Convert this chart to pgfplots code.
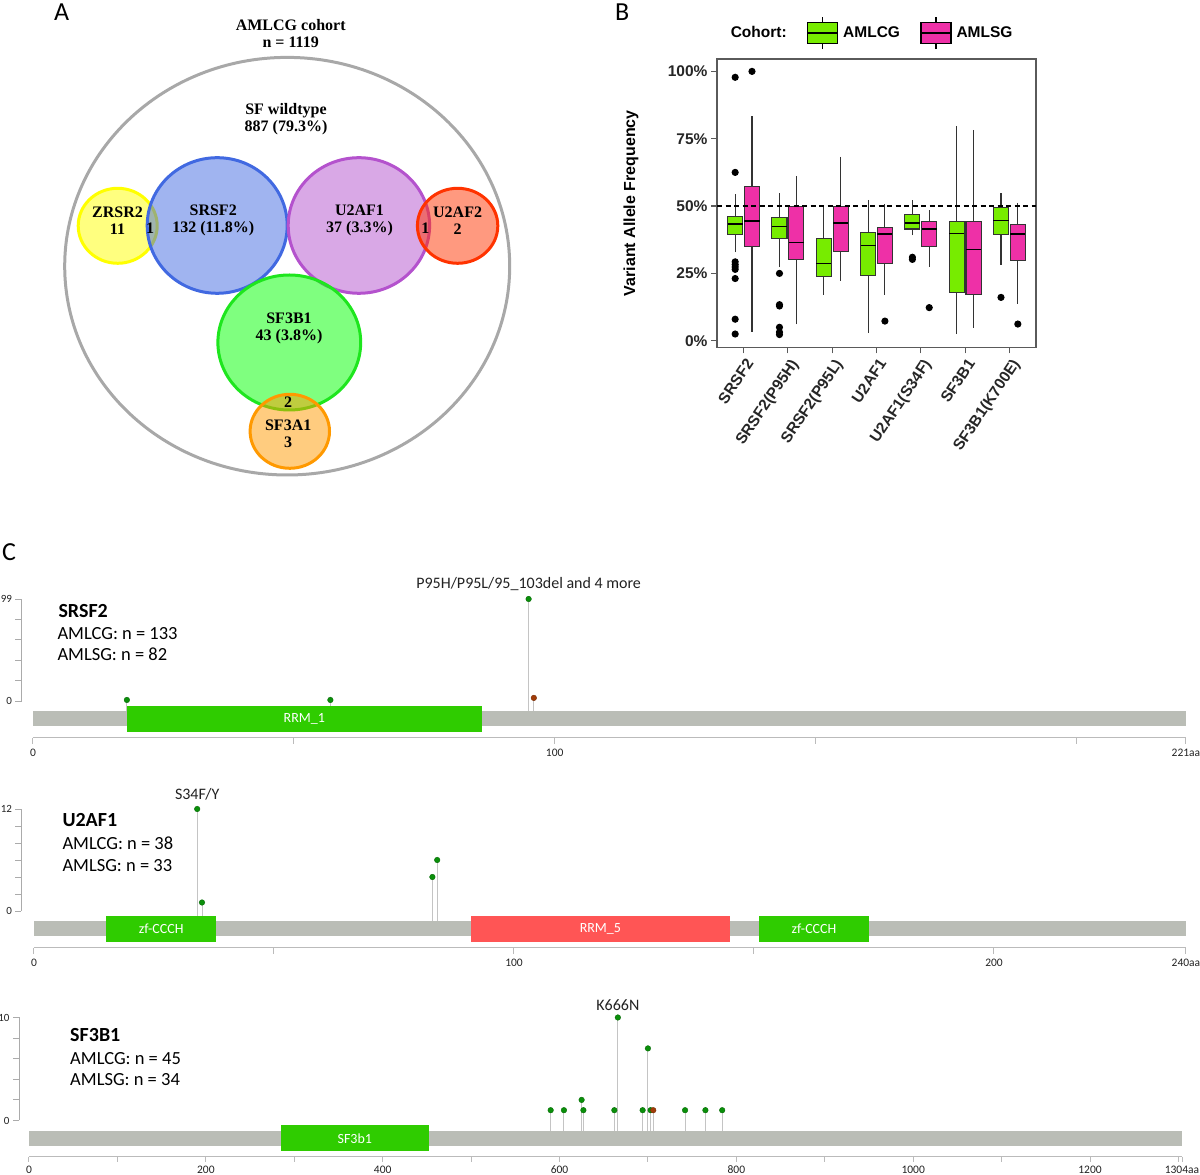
\documentclass[border=0pt]{standalone}
\usepackage{pgfplots}
\pgfplotsset{compat=1.18}
\usepackage{pgfplotstable}
\usepgfplotslibrary{statistics}
\usepackage{fontspec}
\setmainfont{Carlito}
\newfontfamily\timesf{Liberation Serif}
\newfontfamily\arialf{Liberation Sans}
\newcommand\fs[2]{\fontsize{#1}{#2}\selectfont}

\definecolor{outergray}{HTML}{A8A8A8}
\definecolor{vyellow}{HTML}{FFFF00}
\definecolor{vblue}{HTML}{4169E1}
\definecolor{vpurple}{HTML}{B452CD}
\definecolor{vred}{HTML}{FF3300}
\definecolor{vgreen}{HTML}{00FF00}
\definecolor{vgreenl}{HTML}{1EE61E}
\definecolor{vorange}{HTML}{FF9900}
\definecolor{amlcg}{HTML}{77EC00}
\definecolor{amlsg}{HTML}{EE30A7}
\definecolor{boxline}{HTML}{333333}
\definecolor{framegray}{HTML}{5A5A5A}
\definecolor{bargray}{HTML}{BABDB6}
\definecolor{domgreen}{HTML}{2FCC00}
\definecolor{domred}{HTML}{FF5555}
\definecolor{stemgray}{HTML}{C4C4C4}
\definecolor{rulergray}{HTML}{BBBBBB}
\definecolor{axgray}{HTML}{ABABAB}
\definecolor{dotgreen}{HTML}{0A8F0A}
\definecolor{dotbrown}{HTML}{A13C08}
\definecolor{txt}{HTML}{222222}

% lollipop data: amino acid position, number of mutations
\pgfplotstableread{
aa n
18 1
57 1
95 99
}\srsfG
\pgfplotstableread{
aa n
96 3
}\srsfB
\pgfplotstableread{
aa n
34 12
35 1
83 4
84 6
}\uafG
\pgfplotstableread{
aa n
590 1
605 1
625 2
627 1
662 1
666 10
694 1
700 7
703 1
742 1
765 1
784 1
}\sfbG
\pgfplotstableread{
aa n
706 1
}\sfbB

\pgfplotsset{
  bxG/.style={forget plot, draw=boxline, line width=1.1pt, fill=amlcg,
    mark=*, mark size=3pt, mark options={draw=black, fill=black}},
  bxP/.style={forget plot, draw=boxline, line width=1.1pt, fill=amlsg,
    mark=*, mark size=3pt, mark options={draw=black, fill=black}},
  lolli/.style={anchor=south west, scale only axis, clip=false,
    hide x axis, axis y line=left,
    axis line style={-, draw=axgray, line width=0.9pt},
    ytick style={draw=axgray, line width=0.9pt},
    tick align=outside, major tick length=6pt,
    yticklabel style={font=\fs{11}{11}, text=txt}},
  stem/.style={forget plot, draw=none, mark=none,
    error bars/.cd, y dir=minus, y explicit, error mark=none,
    error bar style={draw=stemgray, line width=0.9pt, solid}},
  dotG/.style={forget plot, only marks, mark=*, mark size=2.8pt,
    mark options={fill=dotgreen, draw=dotgreen!75!black, line width=0.4pt}},
  dotB/.style={forget plot, only marks, mark=*, mark size=2.8pt,
    mark options={fill=dotbrown, draw=dotbrown!75!black, line width=0.4pt}},
}
\tikzset{
  venn/.style={line width=3pt, fill opacity=0.5},
  vtxt/.style={font=\timesf\bfseries\fs{16}{17}, align=center, text=black},
  domlbl/.style={font=\fs{14}{14}, text=white},
  rlbl/.style={font=\fs{11.5}{11.5}, text=txt},
  annot/.style={font=\fs{16}{16}, text=txt},
  gname/.style={anchor=west, font=\bfseries\fs{20}{20}, text=black},
  gcount/.style={anchor=west, font=\fs{18.5}{18.5}, text=black},
}

\begin{document}
\begin{tikzpicture}[x=1pt, y=1pt]
\path[use as bounding box] (0,0) rectangle (1200,1175);

% panel letters
\node[font=\fs{26}{26}] at (61.7,1163.3) {A};
\node[font=\fs{26}{26}] at (622.3,1163.3) {B};
\node[font=\fs{26}{26}] at (9,623) {C};

%% A: Venn diagram
\begin{axis}[at={(0pt,695pt)}, anchor=south west, scale only axis,
    width=560pt, height=480pt, xmin=0, xmax=560, ymin=0, ymax=480,
    y dir=reverse, hide axis, clip=false]
  \draw[outergray, line width=3pt] (axis cs:287.2,266.2) ellipse [x radius=222.5, y radius=208.8];
  \draw[venn, draw=vyellow, fill=vyellow] (axis cs:117.7,225.8) ellipse [x radius=39.5, y radius=37.5];
  \draw[venn, draw=vblue, fill=vblue] (axis cs:217.2,225.5) ellipse [x radius=70, y radius=67.8];
  \draw[venn, draw=vpurple, fill=vpurple] (axis cs:358.9,225.5) ellipse [x radius=70.7, y radius=67.8];
  \draw[venn, draw=vred, fill=vred] (axis cs:457.6,225.8) ellipse [x radius=40.2, y radius=37.5];
  \draw[venn, draw=vgreenl, fill=vgreen] (axis cs:289.3,342.5) ellipse [x radius=71.4, y radius=67.5];
  \draw[venn, draw=vorange, fill=vorange] (axis cs:289.8,431.3) ellipse [x radius=39.7, y radius=37];
  \node[vtxt] at (axis cs:290.7,33.6) {AMLCG cohort\\n = 1119};
  \node[vtxt] at (axis cs:286,118.8) {SF wildtype\\887 (79.3\%)};
  \node[vtxt] at (axis cs:117.5,220.3) {ZRSR2\\11};
  \node[vtxt] at (axis cs:150,228.3) {1};
  \node[vtxt] at (axis cs:213.2,220.3) {SRSF2\\132 (11.8\%)};
  \node[vtxt] at (axis cs:359.5,220.3) {U2AF1\\37 (3.3\%)};
  \node[vtxt] at (axis cs:425.3,228.3) {1};
  \node[vtxt] at (axis cs:457.6,220.3) {U2AF2\\2};
  \node[vtxt] at (axis cs:289,328.3) {SF3B1\\43 (3.8\%)};
  \node[vtxt] at (axis cs:288.2,402.7) {2};
  \node[vtxt] at (axis cs:288.2,433.3) {SF3A1\\3};
\end{axis}

%% B: VAF boxplots
\begin{axis}[at={(717pt,827.5pt)}, anchor=south west, scale only axis,
    width=319pt, height=288.5pt,
    xmin=0.4, xmax=7.6, ymin=-2.5, ymax=104.6,
    axis line style={draw=framegray, line width=1.2pt},
    tick style={draw=framegray, line width=1.2pt},
    tick align=outside, major tick length=6pt,
    xtick pos=bottom, ytick pos=left,
    xtick={1,...,7},
    xticklabels={SRSF2,SRSF2(P95H),SRSF2(P95L),U2AF1,U2AF1(S34F),SF3B1,SF3B1(K700E)},
    ytick={0,25,50,75,100},
    yticklabels={0\%,25\%,50\%,75\%,100\%},
    ticklabel style={font=\arialf\bfseries\fs{15.5}{16}, text=black!85},
    xticklabel style={rotate=56, anchor=north east, xshift=1pt},
    ylabel={Variant Allele Frequency},
    ylabel style={font=\arialf\bfseries\fs{16}{16}, at={(axis description cs:-0.27,0.5)}, anchor=center},
    boxplot/draw direction=y,
    boxplot/box extend=0.34,
    boxplot/whisker extend=0,
    boxplot/every median/.style={draw=black, line width=1.5pt},
    legend columns=3,
    legend style={draw=none, fill=none, at={(0.48,1.09)}, anchor=center,
      font=\arialf\bfseries\fs{15.5}{16},
      /tikz/every odd column/.append style={column sep=3pt},
      /tikz/every even column/.append style={column sep=18pt}},
  ]
  \addlegendimage{empty legend}
  \addlegendentry{Cohort:}
  \addlegendimage{legend image code/.code={
    \draw[black, line width=1.5pt] (15pt,-16pt) -- (15pt,16pt);
    \draw[black, line width=1.5pt, fill=amlcg] (0pt,-10.5pt) rectangle (30pt,10.5pt);
    \draw[black, line width=1.5pt] (0pt,0pt) -- (30pt,0pt);}}
  \addlegendentry{AMLCG}
  \addlegendimage{legend image code/.code={
    \draw[black, line width=1.5pt] (15pt,-16pt) -- (15pt,16pt);
    \draw[black, line width=1.5pt, fill=amlsg] (0pt,-10.5pt) rectangle (30pt,10.5pt);
    \draw[black, line width=1.5pt] (0pt,0pt) -- (30pt,0pt);}}
  \addlegendentry{AMLSG}

  % SRSF2
  \addplot[bxG, boxplot prepared={draw position=0.81, lower whisker=32.8, lower quartile=39.6,
    median=43.3, upper quartile=46.2, upper whisker=54.4}]
    table[row sep=\\, y index=0] {y\\ 97.8\\ 62.5\\ 29.3\\ 28.3\\ 27.4\\ 26.5\\ 23.1\\ 8.0\\ 2.5\\};
  \addplot[bxP, boxplot prepared={draw position=1.19, lower whisker=3.3, lower quartile=35.1,
    median=44.4, upper quartile=57.1, upper whisker=83.3}]
    table[row sep=\\, y index=0] {y\\ 100\\};
  % SRSF2(P95H)
  \addplot[bxG, boxplot prepared={draw position=1.81, lower whisker=27.2, lower quartile=38.0,
    median=42.4, upper quartile=45.9, upper whisker=54.7}]
    table[row sep=\\, y index=0] {y\\ 25.0\\ 13.4\\ 12.9\\ 5.0\\ 3.2\\ 2.3\\};
  \addplot[bxP, boxplot prepared={draw position=2.19, lower whisker=6.1, lower quartile=30.0,
    median=36.5, upper quartile=50.0, upper whisker=61.2}] coordinates {};
  % SRSF2(P95L)
  \addplot[bxG, boxplot prepared={draw position=2.81, lower whisker=17.0, lower quartile=23.8,
    median=28.7, upper quartile=38.0, upper whisker=50.0}] coordinates {};
  \addplot[bxP, boxplot prepared={draw position=3.19, lower whisker=22.3, lower quartile=33.3,
    median=43.8, upper quartile=50.0, upper whisker=68.4}] coordinates {};
  % U2AF1
  \addplot[bxG, boxplot prepared={draw position=3.81, lower whisker=2.8, lower quartile=24.3,
    median=35.4, upper quartile=40.3, upper whisker=52.3}] coordinates {};
  \addplot[bxP, boxplot prepared={draw position=4.19, lower whisker=17.0, lower quartile=28.6,
    median=39.6, upper quartile=42.1, upper whisker=50.6}]
    table[row sep=\\, y index=0] {y\\ 7.3\\};
  % U2AF1(S34F)
  \addplot[bxG, boxplot prepared={draw position=4.81, lower whisker=39.1, lower quartile=41.5,
    median=43.8, upper quartile=47.0, upper whisker=52.2}]
    table[row sep=\\, y index=0] {y\\ 31.0\\ 30.2\\};
  \addplot[bxP, boxplot prepared={draw position=5.19, lower whisker=27.4, lower quartile=34.9,
    median=41.5, upper quartile=44.4, upper whisker=48.5}]
    table[row sep=\\, y index=0] {y\\ 12.3\\};
  % SF3B1
  \addplot[bxG, boxplot prepared={draw position=5.81, lower whisker=2.5, lower quartile=18.0,
    median=39.8, upper quartile=44.2, upper whisker=79.8}] coordinates {};
  \addplot[bxP, boxplot prepared={draw position=6.19, lower whisker=4.9, lower quartile=17.3,
    median=33.9, upper quartile=44.2, upper whisker=78.3}] coordinates {};
  % SF3B1(K700E)
  \addplot[bxG, boxplot prepared={draw position=6.81, lower whisker=28.3, lower quartile=39.5,
    median=44.7, upper quartile=49.6, upper whisker=54.7}]
    table[row sep=\\, y index=0] {y\\ 16.1\\};
  \addplot[bxP, boxplot prepared={draw position=7.19, lower whisker=13.7, lower quartile=29.9,
    median=39.7, upper quartile=43.2, upper whisker=51.3}]
    table[row sep=\\, y index=0] {y\\ 6.2\\};

  \addplot[forget plot, black, line width=1.2pt, dash pattern=on 5pt off 3.5pt]
    coordinates {(0.4,50) (7.6,50)};
\end{axis}

%% C: lollipop plots
% SRSF2
\begin{axis}[lolli, at={(21.5pt,474pt)}, width=1164.5pt, height=102pt,
    xmin=-2.204, xmax=221, ymin=0, ymax=99,
    ytick={0,19.8,39.6,59.4,79.2,99}, yticklabels={0,,,,,99}]
  \fill[bargray] ([yshift=-10.5pt]axis cs:0,0) rectangle ([yshift=-25.5pt]axis cs:221,0);
  \addplot[stem] table[x=aa, y=n, y error expr={\thisrow{n}+10.19}] {\srsfG};
  \addplot[stem] table[x=aa, y=n, y error expr={\thisrow{n}+10.19}] {\srsfB};
  \fill[domgreen] ([yshift=-5pt]axis cs:18,0) rectangle ([yshift=-31pt]axis cs:86,0);
  \node[domlbl] at ([yshift=-18pt]axis cs:52,0) {RRM\_1};
  \addplot[dotG] table[x=aa, y=n] {\srsfG};
  \addplot[dotB] table[x=aa, y=n] {\srsfB};
  \draw[rulergray, line width=1pt] ([yshift=-37pt]axis cs:0,0) -- ([yshift=-37pt]axis cs:221,0);
  \pgfplotsinvokeforeach{0,50,100,150,200,221}{
    \draw[rulergray, line width=1pt] ([yshift=-37pt]axis cs:#1,0) -- ([yshift=-43pt]axis cs:#1,0);}
  \node[rlbl] at ([yshift=-51.5pt]axis cs:0,0) {0};
  \node[rlbl] at ([yshift=-51.5pt]axis cs:100,0) {100};
  \node[rlbl] at ([yshift=-51.5pt]axis cs:221,0) {221aa};
  \node[annot] at ([yshift=15pt]axis cs:95,99) {P95H/P95L/95\_103del and 4 more};
\end{axis}
\node[gname] at (55,564.2) {SRSF2};
\node[gcount] at (54,541.7) {AMLCG: n = 133};
\node[gcount] at (54,521) {AMLSG: n = 82};

% U2AF1
\begin{axis}[lolli, at={(21.5pt,264pt)}, width=1164.5pt, height=102pt,
    xmin=-2.604, xmax=240, ymin=0, ymax=12,
    ytick={0,2,4,6,8,10,12}, yticklabels={0,,,,,,12}]
  \fill[bargray] ([yshift=-10.5pt]axis cs:0,0) rectangle ([yshift=-25.5pt]axis cs:240,0);
  \addplot[stem] table[x=aa, y=n, y error expr={\thisrow{n}+1.235}] {\uafG};
  \fill[domgreen] ([yshift=-5pt]axis cs:15,0) rectangle ([yshift=-31pt]axis cs:38,0);
  \fill[domred] ([yshift=-5pt]axis cs:91,0) rectangle ([yshift=-31pt]axis cs:145,0);
  \fill[domgreen] ([yshift=-5pt]axis cs:151,0) rectangle ([yshift=-31pt]axis cs:174,0);
  \node[domlbl] at ([yshift=-18pt]axis cs:26.5,0) {zf-CCCH};
  \node[domlbl] at ([yshift=-18pt]axis cs:118,0) {RRM\_5};
  \node[domlbl] at ([yshift=-18pt]axis cs:162.5,0) {zf-CCCH};
  \addplot[dotG] table[x=aa, y=n] {\uafG};
  \draw[rulergray, line width=1pt] ([yshift=-37pt]axis cs:0,0) -- ([yshift=-37pt]axis cs:240,0);
  \pgfplotsinvokeforeach{0,50,100,150,200,240}{
    \draw[rulergray, line width=1pt] ([yshift=-37pt]axis cs:#1,0) -- ([yshift=-43pt]axis cs:#1,0);}
  \node[rlbl] at ([yshift=-52pt]axis cs:0,0) {0};
  \node[rlbl] at ([yshift=-52pt]axis cs:100,0) {100};
  \node[rlbl] at ([yshift=-52pt]axis cs:200,0) {200};
  \node[rlbl] at ([yshift=-52pt]axis cs:240,0) {240aa};
  \node[annot] at ([yshift=14.7pt]axis cs:34,12) {S34F/Y};
\end{axis}
\node[gname] at (59,355) {U2AF1};
\node[gcount] at (59,331.7) {AMLCG: n = 38};
\node[gcount] at (59,309) {AMLSG: n = 33};

% SF3B1
\begin{axis}[lolli, at={(19pt,54.5pt)}, width=1163pt, height=103pt,
    xmin=-11.3, xmax=1304, ymin=0, ymax=10,
    ytick={0,2,4,6,8,10}, yticklabels={0,,,,,10}]
  \fill[bargray] ([yshift=-10.5pt]axis cs:0,0) rectangle ([yshift=-25.5pt]axis cs:1304,0);
  \addplot[stem] table[x=aa, y=n, y error expr={\thisrow{n}+1.02}] {\sfbG};
  \addplot[stem] table[x=aa, y=n, y error expr={\thisrow{n}+1.02}] {\sfbB};
  \fill[domgreen] ([yshift=-5pt]axis cs:285,0) rectangle ([yshift=-31pt]axis cs:452,0);
  \node[domlbl] at ([yshift=-18pt]axis cs:368.5,0) {SF3b1};
  \addplot[dotG] table[x=aa, y=n] {\sfbG};
  \addplot[dotB] table[x=aa, y=n] {\sfbB};
  \draw[rulergray, line width=1pt] ([yshift=-36.5pt]axis cs:0,0) -- ([yshift=-36.5pt]axis cs:1304,0);
  \pgfplotsinvokeforeach{0,100,200,300,400,500,600,700,800,900,1000,1100,1200,1300,1304}{
    \draw[rulergray, line width=1pt] ([yshift=-36.5pt]axis cs:#1,0) -- ([yshift=-42pt]axis cs:#1,0);}
  \pgfplotsinvokeforeach{0,200,400,600,800,1000,1200}{
    \node[rlbl] at ([yshift=-49.5pt]axis cs:#1,0) {#1};}
  \node[rlbl] at ([yshift=-49.5pt]axis cs:1304,0) {1304aa};
  \node[annot] at ([yshift=12.5pt]axis cs:666,10) {K666N};
\end{axis}
\node[gname] at (66.7,140) {SF3B1};
\node[gcount] at (66.7,116.7) {AMLCG: n = 45};
\node[gcount] at (66.7,95) {AMLSG: n = 34};

\end{tikzpicture}
\end{document}
